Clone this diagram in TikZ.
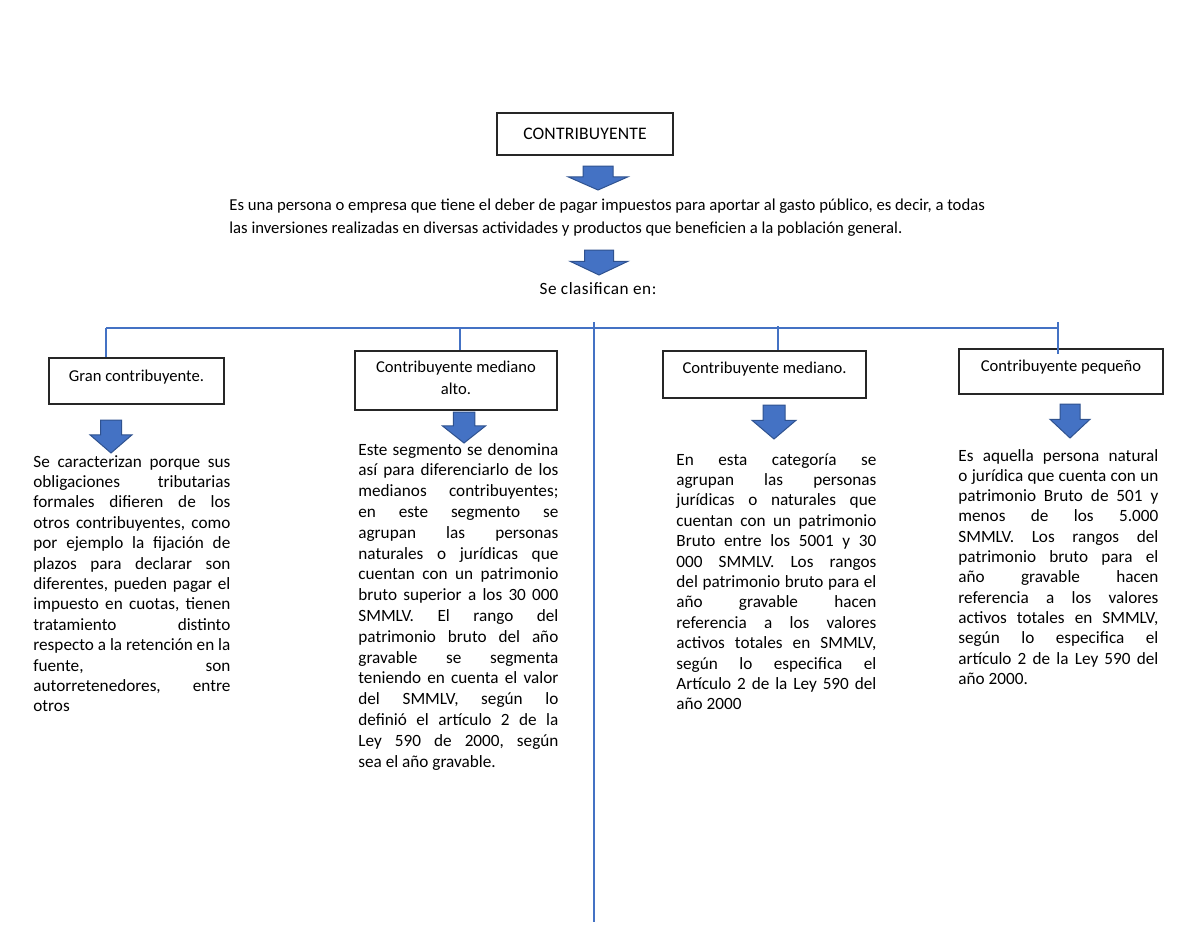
\documentclass[tikz,border=0pt]{standalone}
\usepackage{fontspec}
\setmainfont{Carlito}
\definecolor{ablue}{HTML}{4472C4}
\definecolor{aedge}{HTML}{2F528F}
\newcommand\jln[1]{\hbox to \hsize{\spaceskip=.21em plus 1fil minus .09em\relax #1}}
\newcommand\lln[1]{\hbox{\spaceskip=.226em\relax #1}}
\begin{document}
\begin{tikzpicture}[x=0.5pt,y=-0.5pt]
\tikzset{
 box/.style={draw=black!85, line width=0.7pt, rectangle, inner sep=0},
 lbl/.style={inner sep=0, anchor=base, font=\fontsize{8.3}{11}\selectfont},
 coltext/.style={inner sep=0, anchor=base west, font=\fontsize{8.6}{10.2}\selectfont\frenchspacing},
 bus/.style={draw=ablue, line width=0.6pt},
 barrow/.pic={\path[fill=ablue,draw=aedge,line width=0.5pt] (-0.25,0) -- (0.25,0) -- (0.25,0.45) -- (0.5,0.45) -- (0,1) -- (-0.5,0.45) -- (-0.25,0.45) -- cycle;}
}
\useasboundingbox[fill=white] (0,0) rectangle (1200,927);

% title
\node[box, minimum width=88pt, minimum height=21pt] (top) at (585,134) {};
\node[lbl, font=\fontsize{8.8}{10}\selectfont\addfontfeatures{LetterSpace=1}] (toptxt) at (585,139) {CONTRIBUYENTE};
\pic[xscale=60,yscale=24] at (598,166) {barrow};

\node[inner sep=0, anchor=base west, font=\fontsize{8.35}{11.5}\selectfont\frenchspacing] (def) at (229,210) {\parbox[t]{420pt}{%
\lln{Es una persona o empresa que tiene el deber de pagar impuestos para aportar al gasto público, es decir, a todas}
\lln{las inversiones realizadas en diversas actividades y productos que beneficien a la población general.}}};
\pic[xscale=58,yscale=25] at (599,250) {barrow};
\node[lbl, font=\fontsize{8.6}{10}\selectfont\addfontfeatures{LetterSpace=3}] (clas) at (598,294) {Se clasifican en:};

% bus
\coordinate (busL) at (106,328);
\coordinate (busR) at (1058,328);
\coordinate (j2) at (460,328);
\coordinate (j3) at (778,326);
\coordinate (j4) at (1058,322);
\coordinate (vt) at (594,322);
\coordinate (vb) at (594,922);

% boxes
\node[box, minimum width=87.5pt, minimum height=23pt] (b1) at (136.5,381) {};
\node[lbl] (b1t) at (136.5,381) {Gran contribuyente.};
\node[box, minimum width=101pt, minimum height=29.5pt] (b2) at (456,380.5) {};
\node[lbl] (b2t) at (456,372) {\parbox[t]{100pt}{\centering Contribuyente mediano\\alto.}};
\node[box, minimum width=101.5pt, minimum height=23.5pt] (b3) at (764.5,374.5) {};
\node[lbl] (b3t) at (764.5,373) {Contribuyente mediano.};
\node[box, minimum width=102pt, minimum height=22.5pt] (b4) at (1061,371.5) {};
\node[lbl] (b4t) at (1061,371) {Contribuyente pequeño};

\draw[bus] (busL) -- (busR);
\draw[bus] (busL) -- (busL |- b1.north);
\draw[bus] (j2) -- (j2 |- b2.north);
\draw[bus] (j3) -- (j3 |- b3.north);
\draw[bus] (j4) -- ([yshift=-3pt]j4 |- b4.north);
\draw[bus] (vt) -- (vb);

% arrows
\pic[xscale=42,yscale=33] at (111,420) {barrow};
\pic[xscale=43,yscale=31] at (464,412) {barrow};
\pic[xscale=44,yscale=34] at (774,405) {barrow};
\pic[xscale=40,yscale=34] at (1070,404) {barrow};

% column texts
\node[coltext] (t1) at (33,467) {\parbox[t]{98.5pt}{%
\jln{Se caracterizan porque sus}
\jln{obligaciones tributarias}
\jln{formales difieren de los}
\jln{otros contribuyentes, como}
\jln{por ejemplo la fijación de}
\jln{plazos para declarar son}
\jln{diferentes, pueden pagar el}
\jln{impuesto en cuotas, tienen}
\jln{tratamiento distinto}
\jln{respecto a la retención en la}
\jln{fuente, son}
\jln{autorretenedores, entre}
\lln{otros}}};

\node[coltext, font=\fontsize{8.6}{10.4}\selectfont\frenchspacing] (t2) at (358,455) {\parbox[t]{100pt}{%
\jln{Este segmento se denomina}
\jln{así para diferenciarlo de los}
\jln{medianos contribuyentes;}
\jln{en este segmento se}
\jln{agrupan las personas}
\jln{naturales o jurídicas que}
\jln{cuentan con un patrimonio}
\jln{bruto superior a los 30 000}
\jln{SMMLV. El rango del}
\jln{patrimonio bruto del año}
\jln{gravable se segmenta}
\jln{teniendo en cuenta el valor}
\jln{del SMMLV, según lo}
\jln{definió el artículo 2 de la}
\jln{Ley 590 de 2000, según}
\lln{sea el año gravable.}}};

\node[coltext] (t3) at (676,465) {\parbox[t]{100pt}{%
\jln{En esta categoría se}
\jln{agrupan las personas}
\jln{jurídicas o naturales que}
\jln{cuentan con un patrimonio}
\jln{Bruto entre los 5001 y 30}
\jln{000 SMMLV. Los rangos}
\jln{del patrimonio bruto para el}
\jln{año gravable hacen}
\jln{referencia a los valores}
\jln{activos totales en SMMLV,}
\jln{según lo especifica el}
\jln{Artículo 2 de la Ley 590 del}
\lln{año 2000}}};

\node[coltext, font=\fontsize{8.6}{10.15}\selectfont\frenchspacing] (t4) at (958,461) {\parbox[t]{100pt}{%
\jln{Es aquella persona natural}
\jln{o jurídica que cuenta con un}
\jln{patrimonio Bruto de 501 y}
\jln{menos de los 5.000}
\jln{SMMLV. Los rangos del}
\jln{patrimonio bruto para el}
\jln{año gravable hacen}
\jln{referencia a los valores}
\jln{activos totales en SMMLV,}
\jln{según lo especifica el}
\jln{artículo 2 de la Ley 590 del}
\lln{año 2000.}}};
\end{tikzpicture}
\end{document}
